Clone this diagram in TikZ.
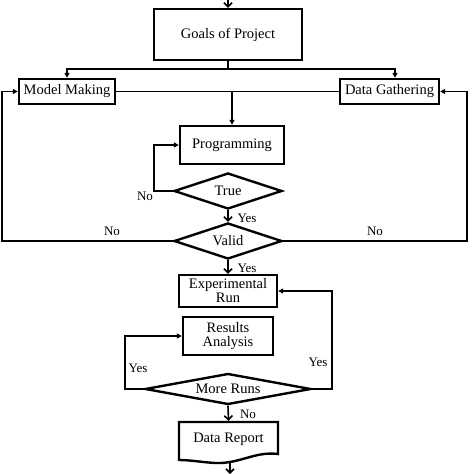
\documentclass[tikz,border=0pt]{standalone}
\usepackage{fontspec}
\setmainfont{Liberation Serif}
\usetikzlibrary{shapes.geometric,arrows.meta,calc}
\begin{document}
\begin{tikzpicture}[x=1pt,y=-1pt,
 box/.style={draw,line width=2.4pt,rectangle,inner sep=0pt,font=\fontsize{14.5}{15}\selectfont,align=center},
 dec/.style={draw,line width=2.4pt,diamond,inner sep=0pt,font=\fontsize{14.5}{15}\selectfont},
 conn/.style={line width=1.6pt},
 arr/.style={conn,-{Triangle[length=5pt,width=5pt]}},
 varr/.style={conn,-{Straight Barb[length=4pt,width=8pt]}},
 lab/.style={font=\fontsize{13}{13}\selectfont,inner sep=0pt}]
\useasboundingbox (0,0) rectangle (474,474);
\fill[white] (0,0) rectangle (474,474);

\node[box,minimum width=148pt,minimum height=51pt] (goals) at (228,34.5) {Goals of Project};
\node[box,minimum width=96pt,minimum height=25pt] (model) at (67,91.5) {Model Making};
\node[box,minimum width=99pt,minimum height=25pt] (data) at (389.5,91.5) {Data Gathering};
\node[box,minimum width=104pt,minimum height=38pt] (prog) at (232,145) {Programming};
\node[dec,aspect=3,minimum width=108pt,minimum height=36pt] (true) at (228,191) {True};
\node[dec,aspect=3,minimum width=108pt,minimum height=36pt] (valid) at (228,241) {Valid};
\node[box,minimum width=98pt,minimum height=32pt,font=\fontsize{14.5}{14}\selectfont] (exp) at (228,291) {Experimental\\Run};
\node[box,minimum width=90pt,minimum height=38pt,font=\fontsize{14.5}{14}\selectfont] (res) at (228,336) {Results\\Analysis};
\node[dec,aspect=5.4,minimum width=166pt,minimum height=31pt] (more) at (228,389) {More Runs};
\node[inner sep=0pt,minimum width=99pt,minimum height=36pt,font=\fontsize{14.5}{15}\selectfont] (rep) at (228.5,439) {Data Report};
\draw[line width=2.4pt,line join=miter] (179,422) -- (278,422) -- (278,454)
  .. controls (255,451) and (240,464) .. (215,463)
  .. controls (200,462) and (190,460) .. (179,460) -- cycle;

% top arrow
\coordinate (topin) at (228,0);
\draw[varr] (topin) -- (goals.north);
% split
\coordinate (split) at (228,69);
\draw[conn] (goals.south) -- (split);
\draw[arr] (split) -| (model.north);
\draw[arr] (split) -| ([xshift=5.5pt]data.north);
% model - data line, to programming
\draw[conn] (model.east) -- (data.west);
\draw[arr] (model.east -| prog.north) -- (prog.north);
% true loop
\coordinate (tl) at (154,191);
\draw[arr] (true.west) -- (tl) |- (prog.west);
\draw[varr] (true.south) -- (valid.north);
% valid loops
\coordinate (vl) at (2,241);
\coordinate (vr) at (467,241);
\draw[arr] (valid.west) -- (vl) |- (model.west);
\draw[arr] (valid.east) -- (vr) |- (data.east);
\draw[varr] (valid.south) -- (exp.north);
% more runs loops
\coordinate (ml) at (125,389);
\coordinate (mr) at (332,389);
\draw[arr] (more.west) -- (ml) |- (res.west);
\draw[arr] (more.east) -- (mr) |- (exp.east);
\draw[varr] (more.south) -- (rep.north);
% bottom arrow
\coordinate (repbot) at (230,462);
\coordinate (outend) at (230,474);
\draw[varr] (repbot) -- (outend);

% labels
\node[lab] (l1) at (145,196) {No};
\node[lab] (l2) at (247,218) {Yes};
\node[lab] (l3) at (112,231) {No};
\node[lab] (l4) at (375,231) {No};
\node[lab] (l5) at (247,268) {Yes};
\node[lab] (l6) at (138,368) {Yes};
\node[lab] (l7) at (318,362) {Yes};
\node[lab] (l8) at (248,414) {No};
\end{tikzpicture}
\end{document}
